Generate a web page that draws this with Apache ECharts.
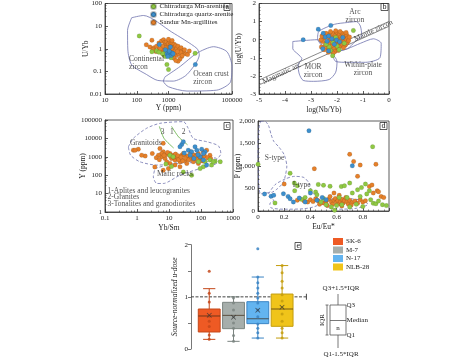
<!DOCTYPE html>
<html><head><meta charset="utf-8">
<script src="https://cdn.jsdelivr.net/npm/echarts@6/dist/echarts.min.js"></script>
<style>html,body{margin:0;padding:0;background:#fff}#c{width:474px;height:363px}</style>
</head><body><div id="c"></div><script>
const SERIF = 'Liberation Serif';
const C_GREEN = '#8fc843', C_BLUE = '#3d8fcc', C_ORANGE = '#e5802a';
const N_GREEN = 'Chitradurga Mn-arenites', N_BLUE = 'Chitradurga quartz-arenite', N_ORANGE = 'Sandur Mn-argillites';

// ---------- Panel a : Y (ppm) vs U/Yb ----------
const aOrange = [[300,2.4],[200,1.5],[260,1.2],[350,1.1],[420,1.3],[500,1.8],[600,2.2],[700,2.5],[750,1.9],[800,1.6],[850,2.0],[900,1.4],[950,1.2],[1000,1.7],[1100,2.1],[1150,1.5],[1200,1.3],[1300,1.8],[1400,1.1],[1500,1.6],[1600,1.2],[1700,1.4],[1800,1.0],[2000,1.3],[2200,0.9],[2500,1.1],[2800,0.8],[3000,0.7],[3500,0.6],[4000,0.55],[2600,0.45],[2300,0.35],[2000,0.28],[1800,0.5],[1600,0.65],[1400,0.8],[1200,0.9],[1000,0.75],[900,0.95],[800,1.1],[700,0.85],[600,0.7],[500,0.9],[1100,0.55],[1300,0.45],[1500,0.38],[1700,0.3],[2100,0.6],[2400,0.7],[900,0.6],[750,0.5],[650,1.3],[550,1.0],[1250,1.05],[1900,0.75],[2700,0.5],[3200,0.9],[4500,0.8],[400,0.75],[320,0.9],[1000,2.6],[1300,2.3]];
const aGreen = [[120,3.7],[300,0.74],[420,0.8],[890,0.2],[1000,0.12],[6900,0.63],[700,0.55],[800,0.45],[900,0.7],[1000,0.5],[1100,0.6],[1200,0.4],[750,0.65],[650,0.6],[1300,0.55],[500,0.7]];
const aBlue = [[7000,0.2],[515,1.55],[900,0.6],[1000,0.55],[1100,0.7],[1200,0.5],[1300,0.65],[950,0.45],[1050,0.8],[800,0.9],[1150,1.2],[1400,0.6]];
// outlines, stored as log10 exponents
const aContinentalLog = [[1.84,1.37],[2.21,1.47],[3.10,0.74],[3.89,0.02],[3.97,-0.27],[3.58,-1.14],[3.15,-1.43],[2.66,-1.40],[2.31,-1.14],[1.84,-0.71],[1.72,-0.06],[1.71,0.81],[1.84,1.37]];
const aOceanLog = [[2.89,-1.24],[3.37,-0.78],[3.89,-0.20],[4.42,0.09],[4.84,-0.13],[5.0,-0.78],[4.94,-1.50],[4.52,-1.83],[3.58,-1.87],[3.0,-1.68],[2.84,-1.43],[2.89,-1.24]];
const aNotes = [[57,0.23,'Continental\nzircon'],[6000,0.05,'Ocean crust\nzircon']];

// ---------- Panel b : log(Nb/Yb) vs log(U/Yb) ----------
const bOrange = [[-2.55,-0.1],[-2.5,0.1],[-2.45,-0.3],[-2.4,0.2],[-2.4,-0.15],[-2.35,-0.45],[-2.3,0.3],[-2.3,0.0],[-2.28,-0.25],[-2.25,-0.55],[-2.2,0.15],[-2.2,-0.1],[-2.18,-0.35],[-2.15,0.35],[-2.12,0.05],[-2.1,-0.2],[-2.1,-0.5],[-2.08,-0.65],[-2.05,0.25],[-2.05,-0.05],[-2.02,-0.3],[-2.0,0.4],[-2.0,0.1],[-1.98,-0.15],[-1.97,-0.45],[-1.95,0.2],[-1.95,-0.05],[-1.92,-0.25],[-1.9,0.3],[-1.9,0.0],[-1.88,-0.35],[-1.85,0.15],[-1.85,-0.15],[-1.82,0.05],[-1.8,-0.25],[-1.8,0.35],[-1.78,-0.05],[-1.75,0.2],[-1.72,-0.1],[-1.7,0.1],[-1.68,-0.3],[-1.65,0.0],[-1.62,0.25],[-1.6,-0.15],[-1.58,0.1],[-1.55,-0.05],[-1.52,0.15],[-2.6,-0.4],[-2.62,0.0],[-2.48,-0.55],[-2.33,-0.7],[-2.15,-0.75],[-1.95,-0.6],[-1.75,-0.45],[-2.25,0.45],[-2.05,0.5],[-1.88,0.45],[-2.42,0.35],[-2.58,0.2],[-1.65,0.4]];
const bGreen = [[-1.37,0.51],[-2.17,-0.88],[-2.3,-0.4],[-2.0,-0.35],[-1.92,-0.55],[-2.15,-0.15],[-2.42,-0.25],[-1.72,-0.2],[-2.25,-0.6],[-2.05,0.12]];
const bBlue = [[-3.3,0.0],[-2.72,0.58],[-2.24,0.79],[-2.53,0.35],[-2.45,0.15],[-2.32,0.2],[-2.2,0.05],[-2.02,-0.02],[-1.9,-0.12],[-2.1,-0.25],[-2.38,-0.08],[-1.78,0.12],[-2.55,-0.5],[-2.32,-0.62]];
const bArc = [[-2.75,0.0],[-2.7,0.45],[-2.1,0.85],[-1.6,0.95],[-1.25,1.0],[-1.1,0.75],[-1.05,0.25],[-1.3,-0.1],[-1.6,-0.5],[-2.0,-0.6],[-2.5,-0.45],[-2.75,0.0]];
const bMOR = [[-3.7,-0.1],[-3.3,-0.05],[-2.75,0.0],[-2.5,-0.45],[-2.2,-0.75],[-2.0,-1.2],[-2.05,-1.8],[-2.3,-2.2],[-2.9,-2.3],[-3.3,-2.25],[-3.45,-1.9],[-3.5,-1.4],[-3.35,-1.05],[-3.5,-0.8],[-3.7,-0.5],[-3.7,-0.1]];
const bWithin = [[-2.2,-0.75],[-1.6,-0.5],[-1.1,-0.2],[-0.6,0.05],[-0.3,-0.2],[-0.35,-1.0],[-0.9,-1.25],[-1.6,-1.25],[-2.05,-1.2],[-2.2,-0.75]];
const bBandLow = [[-5,-2.5],[0,0.74]];
const bBandHigh = [[-5,-2.23],[0,1.01]];
const bNotes = [[-1.31,1.33,'Arc\nzircon',0],[-2.92,-1.75,'MOR\nzircon',0],[-1.0,-1.62,'Within-plate\nzircon',0]];
const bBandNotes = [[-4.13,-1.86,'Magmatic arc'],[-0.6,0.5,'Mantle zircon']];

// ---------- Panel c : Yb/Sm vs Y (ppm) ----------
const cOrange = [[0.77,2300],[1.1,2600],[1.8,1100],[5.2,2800],[6.6,1900],[5.9,1000],[7.5,810],[8.5,1350],[10.7,1520],[12,810],[13.5,1230],[15.4,660],[17.4,1000],[22,810],[25,1230],[28,1520],[36,1000],[46,1870],[51,810],[65,1230],[83,1520],[94,810],[118,1870],[150,2300],[190,1230],[10.7,435],[15.4,355],[22,285],[9.6,230],[36,435],[58,535],[83,435],[5.9,1520],[4.7,1230],[8.5,535],[22,535],[32,660],[0.87,2300],[1.4,1230],[3.6,280],[6.6,186],[6.6,5400],[3,1500],[4,900],[5,700],[7,1200],[9,1700],[11,1100],[14,950],[16,1400],[19,1150],[20,700],[24,950],[27,600],[30,1300],[33,850],[40,1150],[42,700],[48,1000],[55,1350],[60,900],[70,1050],[75,700],[100,1000],[130,1100],[110,600],[160,900],[200,800]];
const cBlue = [[25,4700],[22,3500],[28,6600],[40,2300],[51,1870],[65,3500],[74,2300],[94,1000],[118,660],[134,1870],[105,2600],[46,1230],[150,355],[30,1600],[60,800],[80,1300],[120,1500]];
const cGreen = [[10.7,1230],[13.5,1000],[83,535],[134,535],[190,660],[275,580],[215,355],[118,285],[51,100],[28,150],[94,230],[240,540],[400,540],[8,400],[12,300]];
const cGranitoidsLog = [[-0.27,3.54],[-0.115,4.0],[0.30,4.55],[0.72,4.82],[1.45,4.91],[1.60,4.55],[1.76,4.0],[2.18,3.82],[2.54,3.6],[2.62,3.18],[2.44,2.82],[1.34,2.64],[0.62,2.55],[0.09,2.73],[-0.2,3.09],[-0.27,3.54]];
const cMaficLog = [[0.56,2.36],[1.13,2.64],[1.97,2.82],[2.44,2.94],[2.57,2.76],[2.38,2.55],[1.97,2.36],[1.34,2.0],[0.82,1.55],[0.62,1.55],[0.51,1.91],[0.56,2.36]];
const cLineA = [[5,45000],[7,10000],[14,3000]];
const cLineB = [[12,45000],[20,12000],[38,4500]];
const cNotes = [[0.6,5600,'Granitoids'],[4.2,112,'Mafic rocks'],[5.5,23000,'3'],[10.7,23000,'1'],[25,23000,'2'],[0.12,13.5,'1-Aplites and leucogranites'],[0.12,6.3,'2-Granites'],[0.12,2.6,'3-Tonalites and granodiorites']];

// ---------- Panel d : Eu/Eu* vs P (ppm) ----------
const dOrange = [[0.20,600],[0.43,940],[0.70,1260],[0.73,1100],[0.78,1020],[0.76,770],[0.90,1040],[0.85,545],[0.87,580],[0.91,450],[0.94,320],[0.35,230],[0.38,200],[0.40,250],[0.42,210],[0.44,270],[0.46,230],[0.50,180],[0.52,210],[0.54,260],[0.55,320],[0.56,200],[0.57,150],[0.58,240],[0.59,280],[0.60,190],[0.61,230],[0.62,160],[0.63,210],[0.64,260],[0.65,180],[0.66,230],[0.67,300],[0.68,200],[0.69,150],[0.70,240],[0.72,190],[0.74,220],[0.76,170],[0.78,250],[0.80,200],[0.82,230],[0.88,400],[0.92,430],[0.96,300],[0.58,400],[0.47,150],[0.53,120],[0.64,110],[0.71,130],[0.30,240],[0.62,350]];
const dGreen = [[0.0,1040],[0.245,840],[0.277,620],[0.50,570],[0.46,590],[0.636,545],[0.66,560],[0.70,620],[0.875,1430],[0.79,520],[0.82,600],[0.76,470],[0.95,140],[0.13,180],[0.585,15],[0.55,550],[0.85,450],[0.83,380],[0.88,170],[0.90,160],[0.92,220],[0.98,120],[0.72,400],[0.68,300],[0.62,300],[0.60,120],[0.56,90],[0.52,140],[0.48,200],[0.44,420],[0.40,450],[0.36,300],[0.33,260],[0.30,560],[0.28,450],[0.75,150],[0.78,320],[0.86,250],[0.64,140],[0.70,90],[0.80,100],[0.50,280],[0.45,360]];
const dBlue = [[0.389,1785],[0.72,1003],[0.05,376],[0.10,330],[0.12,350],[0.194,383],[0.23,323],[0.245,272],[0.315,288],[0.40,398],[0.49,301],[0.36,200],[0.52,250],[0.27,200],[0.45,240]];
const dStype = [[0.02,1990],[0.05,2000],[0.08,1900],[0.1,1700],[0.12,1550],[0.16,1420],[0.2,1250],[0.22,1000],[0.21,800],[0.19,620],[0.15,500],[0.11,420],[0.06,400],[0.02,380],[0.005,600],[0.0,1500],[0.01,1900],[0.02,1990]];
const dItype = [[0.08,380],[0.13,585],[0.21,715],[0.28,770],[0.35,745],[0.39,620],[0.41,430],[0.46,250],[0.45,120],[0.35,50],[0.2,40],[0.1,70],[0.09,160],[0.12,240],[0.09,300],[0.08,380]];
const dLowField = [[0.52,230],[0.6,280],[0.72,270],[0.8,230],[0.84,150],[0.75,60],[0.6,40],[0.52,90],[0.5,170],[0.52,230]];
const dNotes = [[0.127,1187,'S-type'],[0.333,567,'I-type']];

// ---------- Panel e : box plots ----------
const eNames = ['SK-6','M-7','N-17','NLB-28'];
const eLow  = [0.185,0.147,0.21,0.21];
const eQ1   = [0.326,0.39,0.486,0.435];
const eMed  = [0.633,0.645,0.58,0.767];
const eQ3   = [0.767,0.895,0.907,1.054];
const eHigh = [1.157,1.0,1.38,1.60];
const eMean = [0.63,0.61,0.74,0.80];
const eDots = [
  [1.49,1.07,0.9,0.63,0.53,0.43,0.27,0.185],
  [0.98,0.88,0.75,0.62,0.5,0.4,0.26,0.15],
  [1.92,1.38,1.27,1.17,1.07,0.98,0.88,0.75,0.62,0.48,0.4,0.31,0.21],
  [1.6,1.46,1.3,1.17,1.04,0.92,0.8,0.67,0.53,0.4,0.31,0.21]
];
const eFill = ['#ee5a24','#a6aeab','#63b4f0','#f0c41a'];
const eEdge = ['#c4481a','#7b8581','#3a84c4','#c49d0e'];

// ---------- helpers ----------
const pw = a => a.map(p => [Math.pow(10,p[0]), Math.pow(10,p[1])]);
function logFmt(v){ const e = Math.round(Math.log10(v)); return e >= 0 ? String(Math.round(Math.pow(10,e))) : Math.pow(10,e).toFixed(-e); }
const lbl = {fontFamily:SERIF,fontSize:7,color:'#222',margin:3};
const nameTS = {fontFamily:SERIF,fontSize:7.5,color:'#222'};
function axis(o){
  return Object.assign({
    nameLocation:'middle', nameTextStyle:nameTS, nameMoveOverlap:false,
    axisLine:{show:true,onZero:false,lineStyle:{color:'#333',width:0.8}},
    axisTick:{show:true,inside:true,length:3,lineStyle:{color:'#333',width:0.8}},
    minorTick:{show:true,splitNumber:5,length:1.5,lineStyle:{color:'#333',width:0.6}},
    axisLabel:lbl, splitLine:{show:false}
  }, o);
}
function sc(name,color,data,gi,z){
  return {type:'scatter',name,xAxisIndex:gi,yAxisIndex:gi,data,symbolSize:4.5,silent:true,z:z,
    itemStyle:{color,borderColor:'rgba(0,0,0,0.25)',borderWidth:0.4,opacity:1}};
}
function poly(data,gi,dashed,color,width){
  return {type:'line',xAxisIndex:gi,yAxisIndex:gi,data,symbol:'none',silent:true,z:2,smooth:0.25,
    lineStyle:{color:color||'#6e72ad',width:width||0.8,type:dashed?[3,2]:'solid'}};
}
function notes(items,gi,align,rot){
  return {type:'scatter',xAxisIndex:gi,yAxisIndex:gi,symbolSize:0,silent:true,z:6,
    data:items.map(d=>({value:[d[0],d[1]],label:{formatter:d[2],rotate:rot||0}})),
    label:{show:true,position:'inside',align:align||'center',verticalAlign:'middle',fontFamily:SERIF,fontSize:7.5,lineHeight:8,color:'#222'}};
}
function tbox(t,l,tp){
  return {text:t,left:l,top:tp,padding:[0,1.5,0,1.5],borderWidth:0.8,borderColor:'#333',
    textStyle:{fontFamily:SERIF,fontSize:8,fontWeight:'normal',color:'#222',lineHeight:8}};
}

const grids = [
  {left:105,top:3,width:127,height:91},
  {left:259,top:2,width:130,height:92},
  {left:105,top:120,width:128,height:92},
  {left:258,top:121,width:131,height:90},
  {left:191,top:244.7,width:115.4,height:104.3}
].map(g=>Object.assign({show:false},g));

const frameGrid = i => Object.assign({}, grids[i], {show:true,borderColor:'#333',borderWidth:0.8});

const option = {
  animation:false,
  backgroundColor:'#fff',
  title:[tbox('a',224,3),tbox('b',381,3),tbox('c',224,122),tbox('d',380,122),tbox('e',295,242)],
  grid:[frameGrid(0),frameGrid(1),frameGrid(2),frameGrid(3),grids[4]],
  legend:[
    {data:[N_GREEN,N_BLUE,N_ORANGE],left:150,top:3,orient:'vertical',itemWidth:6,itemHeight:5,itemGap:1,padding:0,
     textStyle:{fontFamily:SERIF,fontSize:7,color:'#222',padding:[0,0,0,-2]}},
    {data:eNames,left:333,top:238,orient:'vertical',itemWidth:10,itemHeight:7,itemGap:1.5,padding:0,icon:'rect',
     textStyle:{fontFamily:SERIF,fontSize:7,color:'#222',padding:[0,0,0,-2]}}
  ],
  xAxis:[
    axis({gridIndex:0,type:'log',logBase:10,min:10,max:100000,name:'Y (ppm)',nameGap:10,
      axisLabel:Object.assign({},lbl,{formatter:v=>Math.round(Math.log10(v))===4?'':logFmt(v)})}),
    axis({gridIndex:1,type:'value',min:-5,max:0,interval:1,name:'log(Nb/Yb)',nameGap:12}),
    axis({gridIndex:2,type:'log',logBase:10,min:0.1,max:1000,name:'Yb/Sm',nameGap:12,
      axisLabel:Object.assign({},lbl,{formatter:logFmt})}),
    axis({gridIndex:3,type:'value',min:0,max:1,interval:0.2,name:'Eu/Eu*',nameGap:12,
      axisLabel:Object.assign({},lbl,{formatter:v=>v>0.95?'':String(+v.toFixed(1))})}),
    {gridIndex:4,type:'value',min:0.25,max:5,show:false}
  ],
  yAxis:[
    axis({gridIndex:0,type:'log',logBase:10,min:0.01,max:100,name:'U/Yb',nameGap:15,
      axisLabel:Object.assign({},lbl,{formatter:logFmt})}),
    axis({gridIndex:1,type:'value',min:-3,max:2,interval:1,name:'log(U/Yb)',nameGap:16}),
    axis({gridIndex:2,type:'log',logBase:10,min:1,max:100000,name:'Y (ppm)',nameGap:18,
      axisLabel:Object.assign({},lbl,{formatter:logFmt})}),
    axis({gridIndex:3,type:'value',min:0,max:2000,interval:500,name:'P (ppm)',nameGap:16}),
    {gridIndex:4,type:'value',min:0,max:2,interval:0.5,name:'Source-normalized u-dose',nameLocation:'middle',nameGap:12,
      nameTextStyle:Object.assign({},nameTS,{fontStyle:'italic'}),
      axisLine:{show:true,lineStyle:{color:'#555',width:0.8}},
      axisTick:{show:true,length:3,lineStyle:{color:'#555',width:0.8}},
      axisLabel:Object.assign({},lbl,{formatter:v=>Number.isInteger(v)?String(v):''}),
      splitLine:{show:false}}
  ],
  series:[]
};

const S = option.series;
// panel a
S.push(poly(pw(aContinentalLog),0,false,'#6e72ad'), poly(pw(aOceanLog),0,false,'#6e72ad'));
S.push(sc(N_ORANGE,C_ORANGE,aOrange,0,3), sc(N_GREEN,C_GREEN,aGreen,0,4), sc(N_BLUE,C_BLUE,aBlue,0,4));
S.push(notes(aNotes,0,'left'));
// panel b
S.push(poly(bArc,1), poly(bMOR,1), poly(bWithin,1));
S.push(poly(bBandLow,1,false,'#555',0.7), poly(bBandHigh,1,false,'#555',0.7));
S.push(sc(N_ORANGE,C_ORANGE,bOrange,1,3), sc(N_GREEN,C_GREEN,bGreen,1,4), sc(N_BLUE,C_BLUE,bBlue,1,4));
S.push(notes(bNotes,1,'center'), notes(bBandNotes,1,'center',25));
// panel c
S.push(poly(pw(cGranitoidsLog),2,true), poly(pw(cMaficLog),2,true));
S.push(poly(cLineA,2,false,'#5cab3a',0.8), poly(cLineB,2,false,'#5cab3a',0.8));
S.push(sc(N_ORANGE,C_ORANGE,cOrange,2,3), sc(N_GREEN,C_GREEN,cGreen,2,4), sc(N_BLUE,C_BLUE,cBlue,2,4));
S.push(notes(cNotes.slice(0,5),2,'left'), notes(cNotes.slice(5),2,'left'));
// panel d
S.push(poly(dStype,3,true), poly(dItype,3,true), poly(dLowField,3,true));
S.push(sc(N_ORANGE,C_ORANGE,dOrange,3,3), sc(N_GREEN,C_GREEN,dGreen,3,4), sc(N_BLUE,C_BLUE,dBlue,3,4));
S.push(notes(dNotes,3,'center'));
// panel e
S.push({type:'line',xAxisIndex:4,yAxisIndex:4,silent:true,z:1,
  data:[{value:[0.25,1],symbol:'none'},{value:[5,1],symbol:'rect',symbolSize:[1,6]}],
  showAllSymbol:true, itemStyle:{color:'#444'},
  lineStyle:{color:'#444',width:1,type:[3,1.5]}});
eNames.forEach((nm,i)=>{
  S.push({type:'custom',name:nm,xAxisIndex:4,yAxisIndex:4,z:2,silent:true,
    itemStyle:{color:eFill[i],borderColor:eEdge[i]},
    data:[[i+1,eLow[i],eQ1[i],eMed[i],eQ3[i],eHigh[i]]],
    renderItem:(params,api)=>{
      const x = api.value(0);
      const c = k => api.coord([x, api.value(k)]);
      const lo=c(1), q1=c(2), md=c(3), q3=c(4), hi=c(5);
      const w = api.size([0.9,0])[0], cx = lo[0], cap = w*0.28;
      const st = {stroke:eEdge[i],lineWidth:1};
      return {type:'group',children:[
        {type:'line',shape:{x1:cx,y1:hi[1],x2:cx,y2:q3[1]},style:st},
        {type:'line',shape:{x1:cx,y1:q1[1],x2:cx,y2:lo[1]},style:st},
        {type:'line',shape:{x1:cx-cap,y1:hi[1],x2:cx+cap,y2:hi[1]},style:st},
        {type:'line',shape:{x1:cx-cap,y1:lo[1],x2:cx+cap,y2:lo[1]},style:st},
        {type:'rect',shape:{x:cx-w/2,y:q3[1],width:w,height:q1[1]-q3[1]},style:{fill:eFill[i],stroke:eEdge[i],lineWidth:1}},
        {type:'line',shape:{x1:cx-w/2,y1:md[1],x2:cx+w/2,y2:md[1]},style:{stroke:'rgba(60,40,20,0.7)',lineWidth:1}}
      ]};
    }});
  S.push({type:'scatter',xAxisIndex:4,yAxisIndex:4,z:3,silent:true,symbolSize:3,
    itemStyle:{color:eEdge[i],opacity:0.85},data:eDots[i].map(v=>[i+1,v])});
  S.push({type:'scatter',xAxisIndex:4,yAxisIndex:4,z:4,silent:true,symbolSize:0,
    data:[[i+1,eMean[i]]],
    label:{show:true,position:'inside',formatter:'\u00d7',fontFamily:'DejaVu Sans',fontSize:9,color:'#333'}});
});

// key diagram for the box plot (legend graphic)
const g = [];
const kst = {stroke:'#555',lineWidth:0.8};
const kt = (x,y,t,al)=>({type:'text',x,y,style:{text:t,fontFamily:SERIF,fontSize:7,fill:'#222',align:al||'left',verticalAlign:'middle'}});
g.push({type:'rect',shape:{x:330,y:305,width:16,height:30},style:{fill:'#fff',stroke:'#555',lineWidth:0.8}});
g.push({type:'line',shape:{x1:330,y1:320.5,x2:346,y2:320.5},style:kst});
g.push({type:'line',shape:{x1:338,y1:294,x2:338,y2:305},style:kst});
g.push({type:'line',shape:{x1:338,y1:335,x2:338,y2:348},style:kst});
g.push({type:'line',shape:{x1:327,y1:305,x2:327,y2:335},style:kst});
g.push({type:'line',shape:{x1:325.5,y1:305,x2:328.5,y2:305},style:kst});
g.push({type:'line',shape:{x1:325.5,y1:335,x2:328.5,y2:335},style:kst});
g.push(kt(341,288,'Q3+1.5*IQR','center'), kt(346.5,305,'Q3'), kt(346.5,320.5,'Median'), kt(346.5,335,'Q1'),
       kt(338,328,'n','center'), kt(341,354,'Q1-1.5*IQR','center'));
g.push({type:'text',x:322,y:320,rotation:Math.PI/2,style:{text:'IQR',fontFamily:SERIF,fontSize:7,fill:'#222',align:'center',verticalAlign:'middle'}});
option.graphic = g;

const chart = echarts.init(document.getElementById('c'), null, {renderer:'canvas'});
chart.setOption(option);
</script></body></html>
